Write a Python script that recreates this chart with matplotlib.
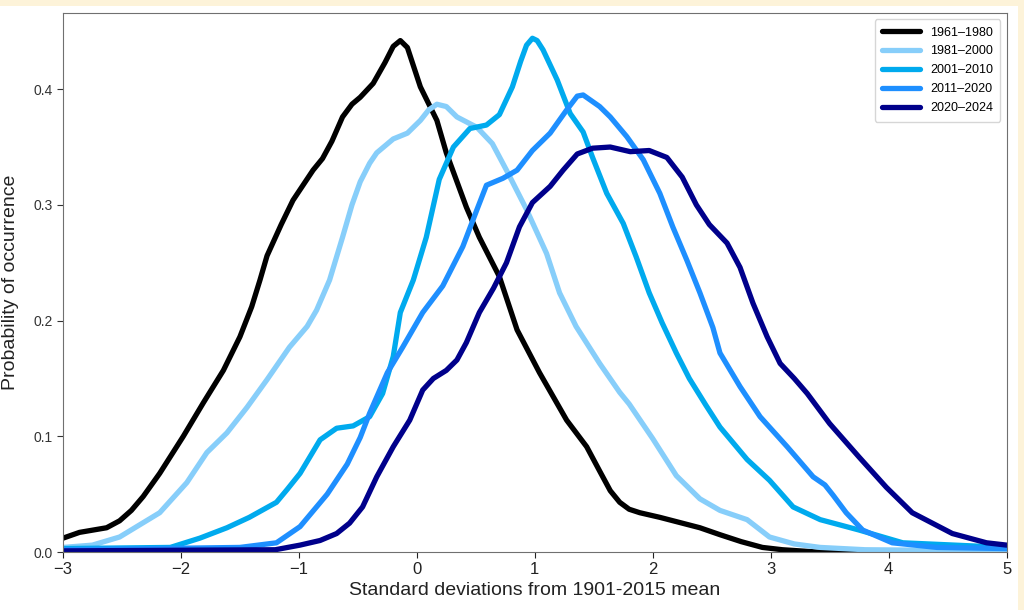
import matplotlib.pyplot as plt
from matplotlib.patches import Rectangle

plt.rcParams['font.family'] = ['Liberation Sans', 'DejaVu Sans']

labels = ['1961\u20131980', '1981\u20132000', '2001\u20132010', '2011\u20132020', '2020\u20132024']
colors = ['#000000', '#87cefa', '#00aaee', '#1e8fff', '#00008b']

x_6180 = [-3.0, -2.86, -2.63, -2.52, -2.42, -2.32, -2.18, -1.98, -1.81, -1.64, -1.5, -1.4, -1.33, -1.27, -1.15,
          -1.05, -0.88, -0.8, -0.72, -0.63, -0.55, -0.48, -0.37, -0.27, -0.2, -0.14, -0.08, 0.03, 0.17, 0.25,
          0.42, 0.53, 0.7, 0.85, 1.04, 1.27, 1.44, 1.55, 1.64, 1.72, 1.8, 1.89, 2.06, 2.4, 2.57, 2.75, 2.93,
          3.1, 3.4, 4.0, 5.0]
y_6180 = [0.012, 0.017, 0.021, 0.027, 0.036, 0.048, 0.068, 0.100, 0.129, 0.157, 0.186, 0.212, 0.235, 0.256, 0.283,
          0.304, 0.330, 0.340, 0.355, 0.376, 0.387, 0.393, 0.405, 0.423, 0.437, 0.442, 0.436, 0.402, 0.373, 0.345,
          0.298, 0.272, 0.238, 0.192, 0.155, 0.114, 0.091, 0.070, 0.053, 0.043, 0.037, 0.034, 0.030, 0.021, 0.015, 0.009, 0.004,
          0.002, 0.0, 0.0, 0.0]

x_8100 = [-3.0, -2.75, -2.52, -2.18, -1.95, -1.78, -1.61, -1.44, -1.27, -1.08, -0.93, -0.85, -0.74, -0.63,
          -0.55, -0.48, -0.4, -0.34, -0.2, -0.08, 0.03, 0.1, 0.17, 0.25, 0.34, 0.51, 0.64, 0.76, 0.93, 1.1,
          1.21, 1.35, 1.55, 1.72, 1.8, 2.0, 2.2, 2.4, 2.57, 2.8, 2.99, 3.2, 3.42, 3.8, 5.0]
y_8100 = [0.004, 0.006, 0.013, 0.034, 0.060, 0.086, 0.103, 0.125, 0.149, 0.177, 0.195, 0.209, 0.235, 0.272,
          0.300, 0.320, 0.336, 0.345, 0.357, 0.362, 0.373, 0.382, 0.387, 0.385, 0.376, 0.367, 0.353, 0.330, 0.296, 0.258,
          0.224, 0.195, 0.163, 0.138, 0.128, 0.098, 0.066, 0.046, 0.036, 0.028, 0.013, 0.007, 0.004, 0.002, 0.001]

x_0110 = [-3.0, -2.09, -1.84, -1.61, -1.42, -1.19, -1.1, -0.99, -0.82, -0.68, -0.54, -0.4, -0.29, -0.2, -0.14,
          -0.03, 0.08, 0.19, 0.31, 0.45, 0.59, 0.7, 0.81, 0.88, 0.93, 0.98, 1.02, 1.07, 1.19, 1.3, 1.41,
          1.49, 1.61, 1.75, 1.86, 1.97, 2.08, 2.2, 2.31, 2.45, 2.57, 2.8, 2.99, 3.19, 3.42, 3.75, 4.12, 5.0]
y_0110 = [0.003, 0.004, 0.012, 0.021, 0.030, 0.043, 0.054, 0.068, 0.097, 0.107, 0.109, 0.117, 0.137, 0.169, 0.207,
          0.235, 0.272, 0.322, 0.350, 0.366, 0.369, 0.378, 0.402, 0.424, 0.438, 0.444, 0.442, 0.434, 0.408, 0.379, 0.363,
          0.341, 0.310, 0.284, 0.255, 0.224, 0.198, 0.172, 0.150, 0.127, 0.108, 0.080, 0.062, 0.039, 0.028, 0.019, 0.008, 0.004]

x_1120 = [-3.0, -1.5, -1.19, -0.99, -0.76, -0.59, -0.48, -0.4, -0.25, -0.12, 0.05, 0.22, 0.39, 0.51, 0.59,
          0.73, 0.85, 0.98, 1.13, 1.27, 1.36, 1.41, 1.55, 1.64, 1.78, 1.92, 2.06, 2.17, 2.29, 2.4, 2.51,
          2.57, 2.74, 2.91, 3.14, 3.36, 3.46, 3.53, 3.64, 3.78, 4.03, 4.41, 5.0]
y_1120 = [0.002, 0.004, 0.008, 0.022, 0.050, 0.076, 0.099, 0.120, 0.155, 0.177, 0.207, 0.230, 0.264, 0.296, 0.317,
          0.323, 0.330, 0.347, 0.362, 0.382, 0.394, 0.395, 0.385, 0.376, 0.359, 0.339, 0.310, 0.281, 0.252, 0.224, 0.194,
          0.172, 0.143, 0.117, 0.091, 0.065, 0.058, 0.049, 0.034, 0.019, 0.008, 0.004, 0.003]

x_2024 = [-3.0, -1.2, -0.99, -0.82, -0.68, -0.57, -0.46, -0.34, -0.2, -0.06, 0.05, 0.14, 0.25, 0.34, 0.42,
          0.53, 0.65, 0.76, 0.87, 0.98, 1.13, 1.24, 1.36, 1.49, 1.64, 1.81, 1.97, 2.12, 2.25, 2.37, 2.48,
          2.63, 2.74, 2.85, 2.97, 3.08, 3.2, 3.31, 3.5, 3.75, 3.98, 4.2, 4.54, 4.83, 5.0]
y_2024 = [0.001, 0.002, 0.006, 0.010, 0.016, 0.025, 0.039, 0.065, 0.091, 0.114, 0.140, 0.150, 0.157, 0.166, 0.181,
          0.207, 0.228, 0.250, 0.281, 0.302, 0.316, 0.330, 0.344, 0.349, 0.350, 0.346, 0.347, 0.341, 0.324, 0.300, 0.283,
          0.267, 0.246, 0.215, 0.186, 0.163, 0.150, 0.137, 0.111, 0.082, 0.056, 0.034, 0.016, 0.008, 0.006]

xs = [x_6180, x_8100, x_0110, x_1120, x_2024]
ys = [y_6180, y_8100, y_0110, y_1120, y_2024]

fig = plt.figure(figsize=(10.24, 6.1), dpi=100)
# thin pale-yellow border along top and right edge
fig.patches.append(Rectangle((0, 0.99), 1, 0.01, transform=fig.transFigure,
                             facecolor='#fdf3d9', edgecolor='none'))
fig.patches.append(Rectangle((0.994, 0), 0.006, 1, transform=fig.transFigure,
                             facecolor='#fdf3d9', edgecolor='none'))
ax = fig.add_axes([0.0615, 0.095, 0.9215, 0.884])

for x, y, c, lab in zip(xs, ys, colors, labels):
    ax.plot(x, y, color=c, lw=3.8, label=lab, solid_joinstyle='round', solid_capstyle='round')

ax.set_xlim(-3, 5)
ax.set_ylim(0, 0.466)
ax.set_yticks([0.0, 0.1, 0.2, 0.3, 0.4])
ax.set_xticks(range(-3, 6))
ax.set_xticklabels([str(v).replace('-', '\u2212') for v in range(-3, 6)])
ax.tick_params(axis='x', labelsize=12, colors='#222222', length=4)
ax.tick_params(axis='y', labelsize=10, colors='#333333', length=4)
for s in ax.spines.values():
    s.set_color('#707070')

ax.set_xlabel('Standard deviations from 1901-2015 mean', fontsize=14, color='#222222', labelpad=3)
ax.set_ylabel('Probability of occurrence', fontsize=14, color='#222222', labelpad=10)

leg = ax.legend(loc='upper right', fontsize=9, handlelength=3, frameon=True, borderpad=0.6,
                labelspacing=0.55)
leg.get_frame().set_edgecolor('#cccccc')

fig.savefig('out.png', dpi=100)
